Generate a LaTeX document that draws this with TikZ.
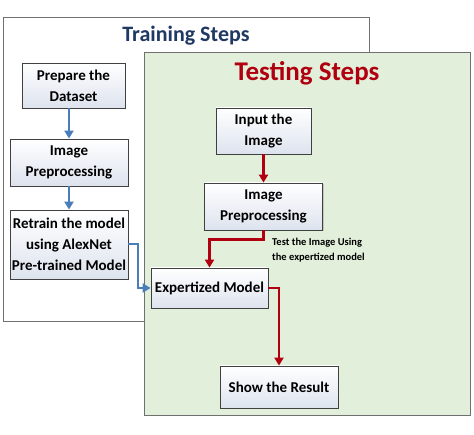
\documentclass[tikz,border=0pt]{standalone}
\usepackage{fontspec}
\setmainfont{Carlito}
\usetikzlibrary{arrows.meta,shadows,calc}
\definecolor{navy}{HTML}{1F3864}
\definecolor{darkred}{HTML}{B00010}
\definecolor{testgreen}{HTML}{E2EFDA}
\definecolor{bluearr}{HTML}{4A7EBB}
\definecolor{boxbot}{HTML}{DDE3EE}
\definecolor{frame}{HTML}{707070}
\tikzset{
  stepbox/.style={draw=black!75, line width=0.8pt, top color=white, bottom color=boxbot,
    drop shadow={shadow xshift=1.2pt, shadow yshift=-1.2pt, opacity=0.35},
    font=\fontsize{15}{21}\selectfont\bfseries, align=center, inner sep=1pt},
  bluearrow/.style={draw=bluearr, line width=2pt, -{Triangle[length=8pt,width=9pt]}},
  redarrow/.style={draw=darkred, line width=2.4pt, -{Triangle[length=8pt,width=9pt]}},
  panel/.style={draw=frame, line width=0.9pt},
}
\begin{document}
\begin{tikzpicture}[x=1pt,y=-1pt]
\useasboundingbox (0,0) rectangle (474,435);
% panels
\draw[panel, fill=white] (3,17) rectangle (369,321);
\node[font=\fontsize{22}{25}\selectfont\bfseries, text=navy] (ttitle) at (186,36) {Training Steps};
\draw[panel, fill=testgreen] (144,52) rectangle (470,415);
\node[font=\fontsize{27}{30}\selectfont\bfseries, text=darkred] (stitle) at (307,73) {Testing Steps};
% training boxes
\node[stepbox, minimum width=103pt, minimum height=45pt] (p1) at (73.5,85.5) {Prepare the\\Dataset};
\node[stepbox, minimum width=118pt, minimum height=47pt] (p2) at (69,162.5) {Image\\Preprocessing};
\node[stepbox, minimum width=118pt, minimum height=69pt] (p3) at (69,244.5) {Retrain the model\\using AlexNet\\Pre-trained Model};
% testing boxes
\node[stepbox, minimum width=95pt, minimum height=46pt] (t1) at (263.5,131) {Input the\\Image};
\node[stepbox, minimum width=118pt, minimum height=47pt] (t2) at (263.5,206.5) {Image\\Preprocessing};
\node[stepbox, minimum width=117pt, minimum height=40pt] (t3) at (209.5,288) {Expertized Model};
\node[stepbox, minimum width=118pt, minimum height=42pt] (t4) at (279,387) {Show the Result};
\node[font=\fontsize{10.5}{15}\selectfont\bfseries, align=left, anchor=west, inner sep=0pt] (lbl) at (272,250.5) {Test the Image Using\\the expertized model};
% arrows
\draw[bluearrow] (p2.north |- p1.south) -- (p2.north);
\draw[bluearrow] (p2.south) -- (p3.north);
\draw[bluearrow] (p3.east) -- ++(10,0) |- (t3.west);
\draw[redarrow] (t1.south) -- (t2.north);
\draw[redarrow] (t2.south) -- ++(0,9) -| (t3.north);
\draw[redarrow] (t3.east) -- ++(10,0) -| (t4.north);
\end{tikzpicture}
\end{document}
